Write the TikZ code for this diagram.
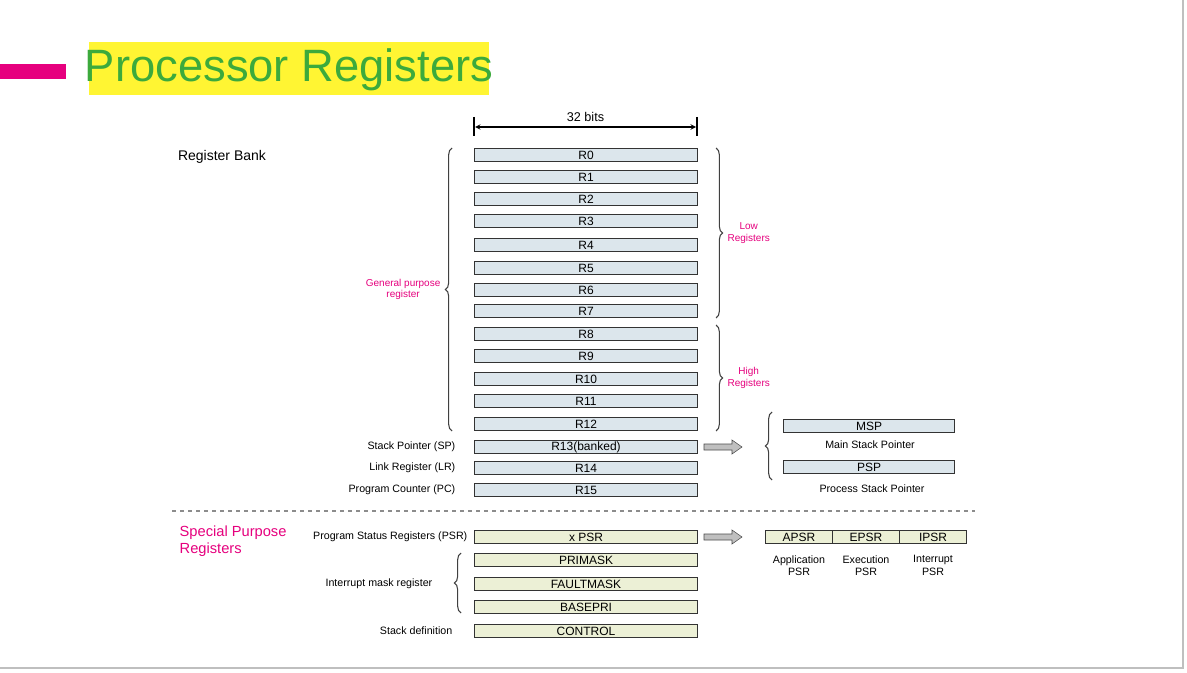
\documentclass[tikz,border=0pt]{standalone}
\usepackage{fontspec}
\setmainfont{Liberation Sans}
\usetikzlibrary{positioning,decorations.pathreplacing}
\definecolor{regblue}{RGB}{220,230,236}
\definecolor{regyel}{RGB}{236,240,214}
\definecolor{pinkred}{RGB}{230,0,126}
\definecolor{titlegreen}{RGB}{60,170,60}
\newcommand{\blkarrow}[2]{%
	\draw[black!70,fill=black!25] (#1,#2-3) -- ++(28,0) -- ++(0,-4) -- ++(10,7) -- ++(-10,7) -- ++(0,-4) -- ++(-28,0) -- cycle;}
\begin{document}
\begin{tikzpicture}[%
		x=0.75pt,
		y=-0.75pt,
		>=stealth,
		reg/.style={%
			draw=black!80,
			thick,
			minimum width=167pt,
			minimum height=10pt,
			inner sep=0pt,
			font=\fontsize{9}{9}\selectfont
		},
		lowreg/.style={reg,fill=regblue},
		spreg/.style={reg,fill=regyel},
		lbl/.style={font=\fontsize{8}{8}\selectfont,anchor=east},
		pinklbl/.style={font=\fontsize{7.5}{8.5}\selectfont,text=pinkred,align=center},
		brc/.style={draw=black!75,thick,decorate,decoration={brace,amplitude=5pt}}
		]
		\useasboundingbox (0,0) rectangle (1187,673);
		\fill[white] (0,0) rectangle (1187,673);
		\draw[black!25,line width=2pt] (0,668) -- (1183,668) -- (1183,0);
		% title
		\fill[pinkred] (0,64) rectangle (66,79);
		\fill[yellow!80] (89,42) rectangle (489,95);
		\node[text=titlegreen,font=\fontsize{34}{36}\selectfont] (title) at (289,70) {Processor Registers};
		% width
		\draw[thick] (474,117) -- (474,136);
		\draw[thick] (697,117) -- (697,136);
		\draw[<->,thick] (475,127) -- node[above,font=\fontsize{9.5}{10}\selectfont] {32 bits} (696,127);
		\node[font=\fontsize{10.5}{11}\selectfont] (bank) at (222,157) {Register Bank};
		% general purpose registers
		\foreach \n/\y in {0/155,1/177,2/199,3/221,4/245,5/268,6/290,7/311,8/334,9/356,10/379,11/401,12/424}
			\node[lowreg] (r\n) at (586,\y) {R\n};
		\node[lowreg] (r13) at (586,447) {R13(banked)};
		\node[lowreg] (r14) at (586,468) {R14};
		\node[lowreg] (r15) at (586,490) {R15};
		\node[lbl] (sp) at (460,447) {Stack Pointer (SP)};
		\node[lbl] (lr) at (460,468) {Link Register (LR)};
		\node[lbl] (pc) at (460,490) {Program Counter (PC)};
		\draw[brc] (452,431) -- (452,148) node[midway,left=5pt,pinklbl] {General purpose\\register};
		\draw[brc] (716,148) -- (716,318) node[midway,right=5pt,pinklbl] {Low\\Registers};
		\draw[brc] (716,325) -- (716,431) node[midway,right=5pt,pinklbl] {High\\Registers};
		% banked stack pointers
		\blkarrow{704}{447}
		\draw[brc] (772,480) -- (772,412);
		\node[lowreg,minimum width=128pt] (msp) at (869,426) {MSP};
		\node[lowreg,minimum width=128pt] (psp) at (869,467) {PSP};
		\node[font=\fontsize{8}{8}\selectfont] (mspl) at (870,445) {Main Stack Pointer};
		\node[font=\fontsize{8}{8}\selectfont] (pspl) at (872,489) {Process Stack Pointer};
		% separator
		\draw[black!45,dashed,thick] (172,511) -- (975,511);
		\node[font=\fontsize{11}{13}\selectfont,text=pinkred,align=left,anchor=west] (spr) at (175,541) {Special Purpose\\Registers};
		% special registers
		\node[spreg] (xpsr) at (586,537) {x PSR};
		\node[spreg] (primask) at (586,560) {PRIMASK};
		\node[spreg] (faultmask) at (586,584) {FAULTMASK};
		\node[spreg] (basepri) at (586,607) {BASEPRI};
		\node[spreg] (control) at (586,631) {CONTROL};
		\node[lbl] (psrl) at (472,537) {Program Status Registers (PSR)};
		\node[lbl] (intl) at (437,584) {Interrupt mask register};
		\node[lbl] (stdl) at (457,631) {Stack definition};
		\draw[brc] (461,613) -- (461,553);
		\blkarrow{704}{537}
		\node[spreg,minimum width=50pt] (apsr) at (799,537) {APSR};
		\node[spreg,minimum width=50pt] (epsr) at (866,537) {EPSR};
		\node[spreg,minimum width=50pt] (ipsr) at (933,537) {IPSR};
		\node[font=\fontsize{8}{9.5}\selectfont,align=center,below=5pt of apsr] (apl) {Application\\PSR};
		\node[font=\fontsize{8}{9.5}\selectfont,align=center,below=5pt of epsr] (epl) {Execution\\PSR};
		\node[font=\fontsize{8}{9.5}\selectfont,align=center,below=5pt of ipsr] (ipl) {Interrupt\\PSR};
		\end{tikzpicture}
\end{document}
